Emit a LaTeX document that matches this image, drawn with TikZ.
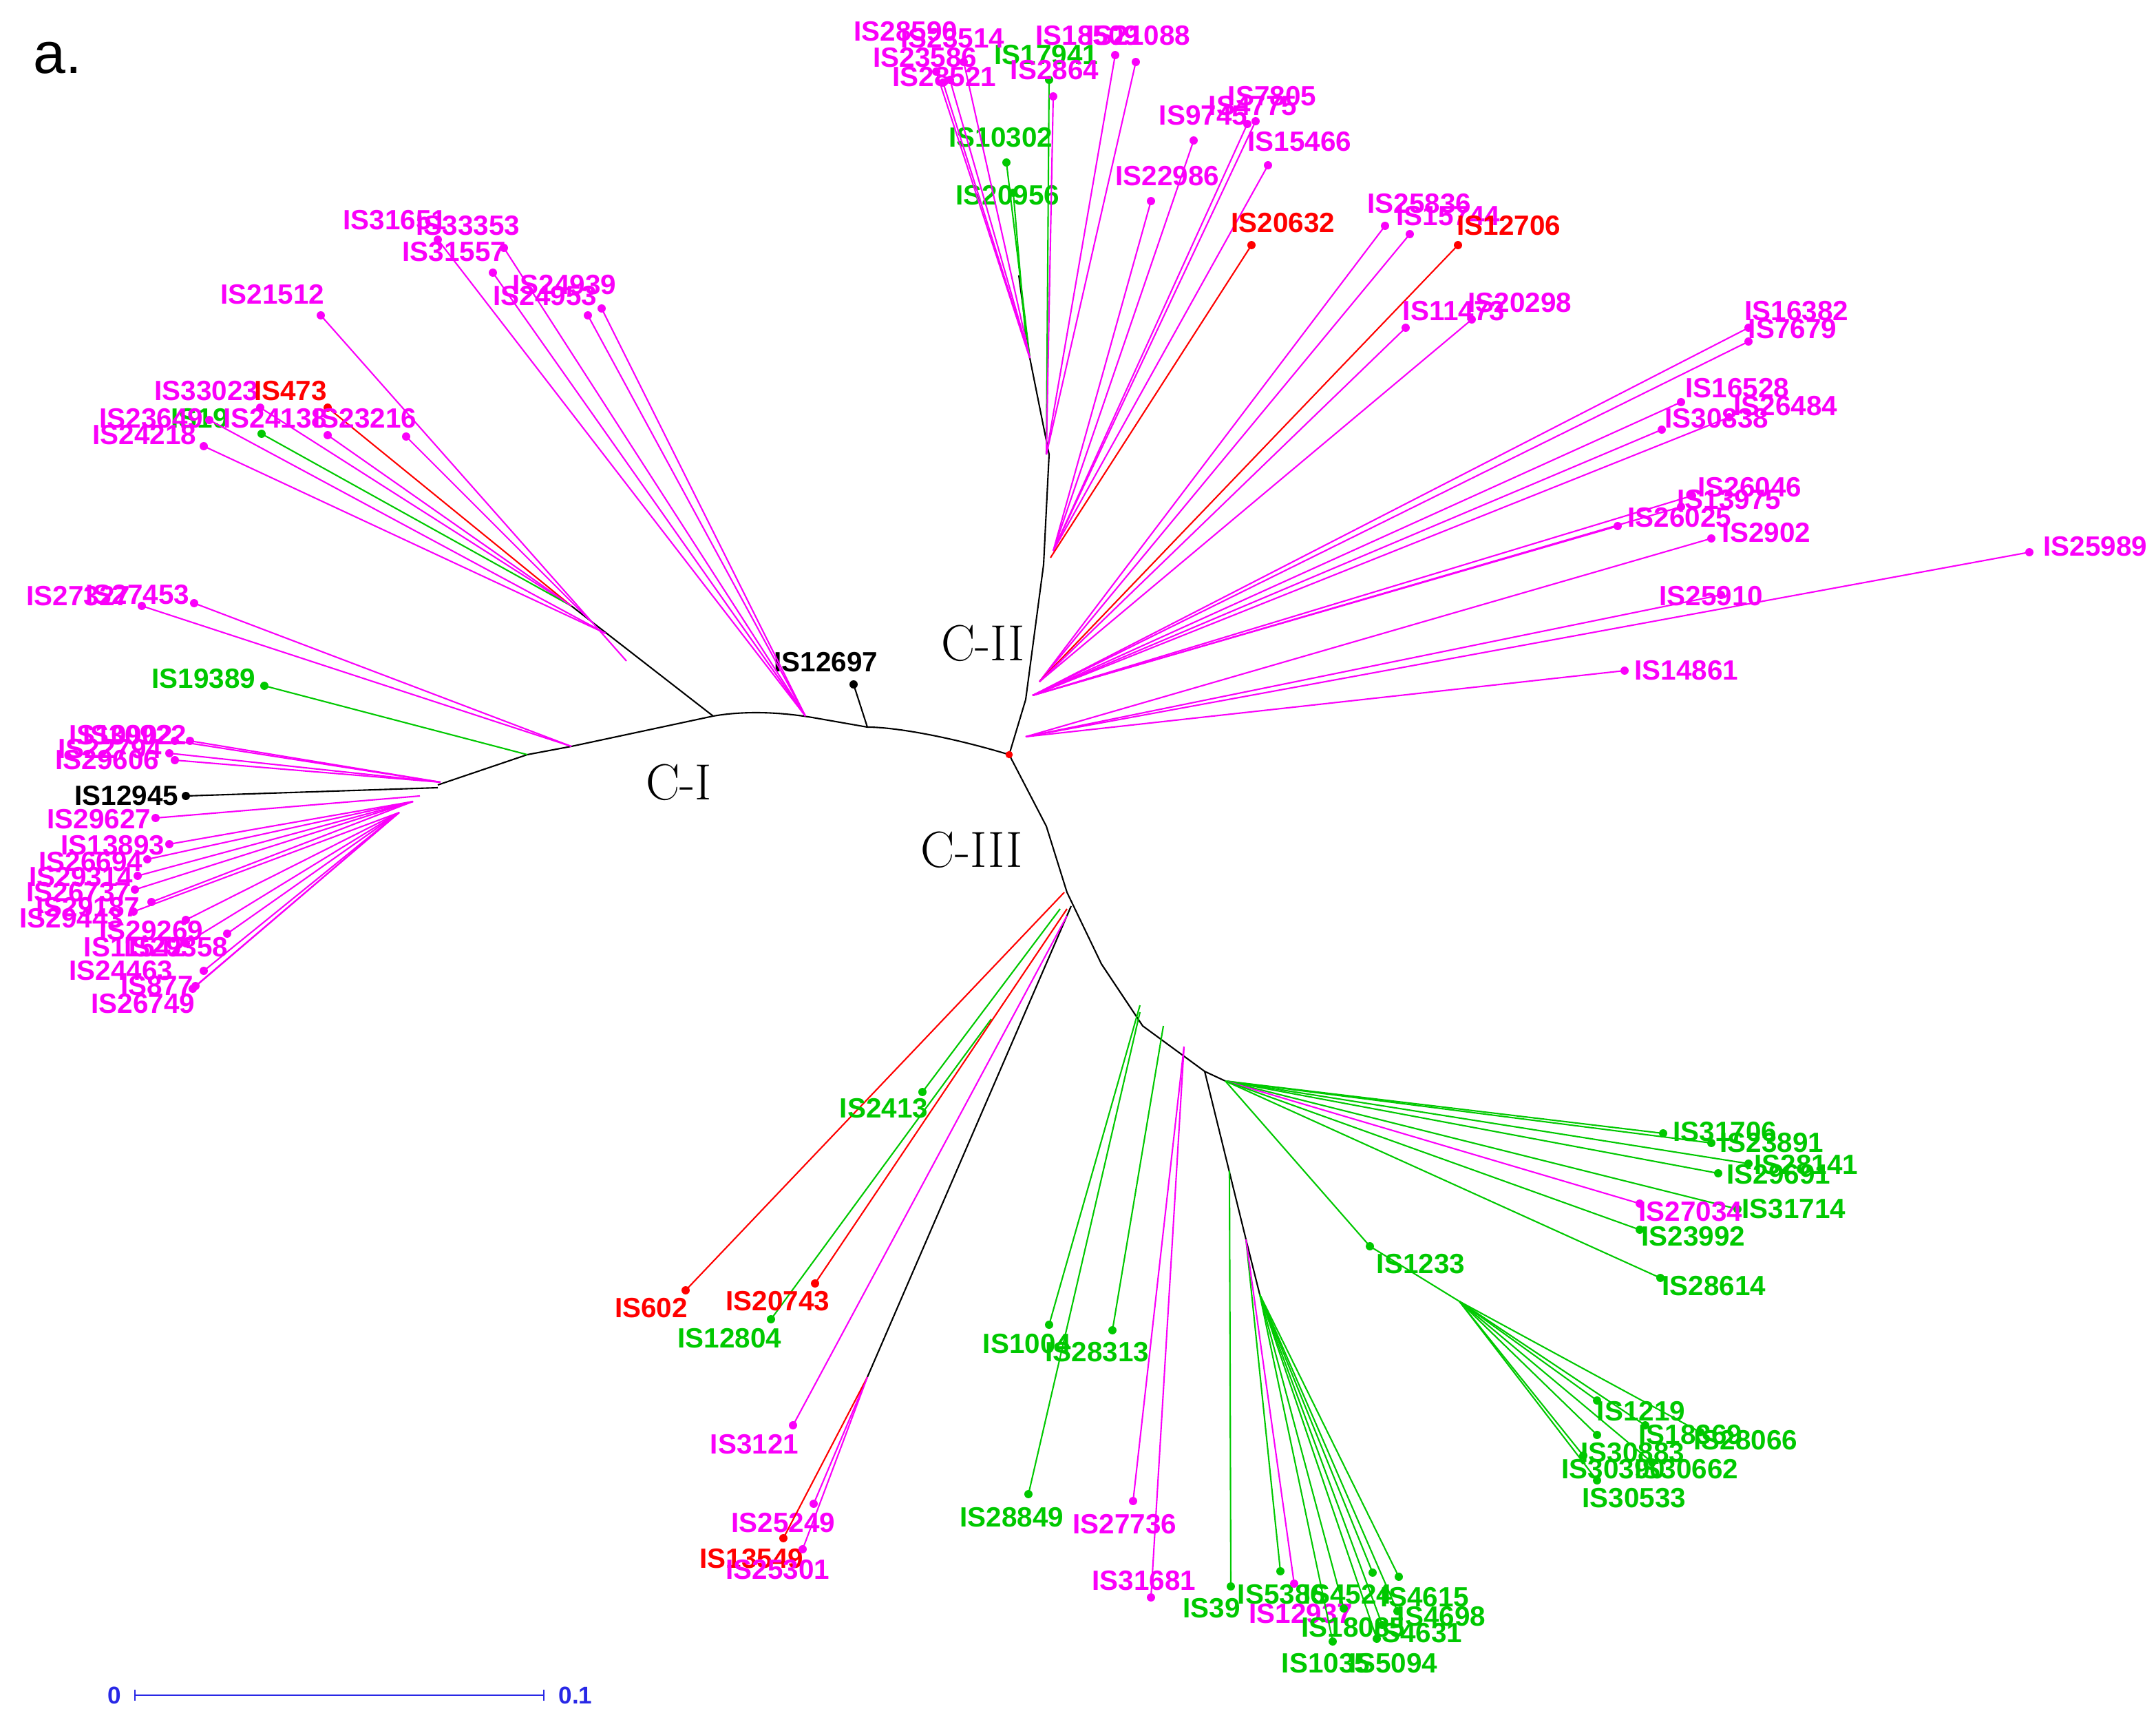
\documentclass[tikz,border=0pt]{standalone}
\usepackage{fontspec}
\setsansfont{Liberation Sans}
\definecolor{pk}{RGB}{250,0,250}
\definecolor{gn}{RGB}{0,200,0}
\definecolor{rd}{RGB}{255,0,0}
\definecolor{bk}{RGB}{0,0,0}
\definecolor{bl}{RGB}{40,40,230}
\newcommand\lf[5]{\coordinate (tip#5) at (#3);\draw[#1] (#2) -- (tip#5); \fill[#1] (tip#5) circle (1.7pt); \node[lab,text=#1] (L#5) at (#4) {#5};}
\begin{document}
\begin{tikzpicture}[x=0.02cm,y=-0.02cm,line width=0.6pt,
 lab/.style={font=\sffamily\bfseries\fontsize{11.5}{12}\selectfont,inner sep=0pt},
 cl/.style={font=\fontsize{21}{22}\selectfont,inner sep=0pt}]
\useasboundingbox (0,0) rectangle (1566,1257);
\node[font=\sffamily\fontsize{24}{24}\selectfont,anchor=west] at (18,42) {a.};
% backbone
\draw[bk] (733,548) .. controls (690,535) and (650,528) .. (630,528) -- (590,521) .. controls (560,516) and (535,517) .. (518,520) -- (415,542) -- (383,548) -- (318,570);
\draw[bk] (630,528) -- (620,497);
\draw[bk] (518,520) -- (415,440);
\draw[bk] (733,548) -- (745,508) -- (758,410) -- (762,330) -- (748,260) -- (740,200);
\draw[bk] (733,548) -- (760,600) -- (775,648) -- (800,700) -- (830,745) -- (875,778) -- (890,785);
\draw[bk] (875,778) -- (905,900) -- (915,940);
\draw[bk] (778,658) -- (630,1000);
\fill[rd] (733,548) circle (1.5pt);
\node[cl] at (493,568) {C-I};
\node[cl] at (714,467) {C-II};
\node[cl] at (706,617) {C-III};
% C-I
\fill[bk] (620,497) circle (1.7pt); \node[lab] (L12697) at (600,481) {IS12697};
\lf{pk}{455,480}{233,229}{198,214}{IS21512}
\lf{pk}{415,440}{189,296}{150,284}{IS33023}
\lf{rd}{415,440}{238,296}{211,284}{IS473}
\lf{gn}{415,440}{190,315}{145,304}{IS19}
\lf{pk}{415,440}{238,316}{200,304}{IS24138}
\lf{pk}{430,452}{295,317}{265,304}{IS23216}
\lf{pk}{440,460}{152,305}{110,304}{IS23649}
\lf{pk}{440,460}{148,324}{105,316}{IS24218}
\lf{pk}{585,520}{318,174}{287,160}{IS31651}
\lf{pk}{585,520}{366,180}{340,164}{IS33353}
\lf{pk}{585,520}{358,198}{330,183}{IS31557}
\lf{pk}{585,520}{437,224}{410,207}{IS24939}
\lf{pk}{585,520}{427,229}{396,215}{IS24953}
\lf{pk}{415,542}{103,440}{57,433}{IS27327}
\lf{pk}{415,542}{141,438}{100,432}{IS27453}
\lf{gn}{383,548}{192,498}{148,493}{IS19389}
\lf{pk}{320,568}{138,538}{98,534}{IS30922}
\lf{pk}{320,568}{127,538}{88,534}{IS10902}
\lf{pk}{320,568}{123,547}{80,544}{IS22794}
\lf{pk}{320,568}{127,552}{78,552}{IS29606}
\lf{bk}{318,572}{135,578}{92,578}{IS12945}
\lf{pk}{305,578}{113,594}{72,595}{IS29627}
\lf{pk}{300,582}{123,613}{82,614}{IS13893}
\lf{pk}{300,582}{107,624}{66,626}{IS26694}
\lf{pk}{300,582}{100,636}{59,637}{IS29314}
\lf{pk}{300,582}{98,646}{57,648}{IS26737}
\lf{pk}{300,582}{110,655}{64,659}{IS29187}
\lf{pk}{290,590}{97,662}{52,667}{IS29443}
\lf{pk}{290,590}{135,668}{110,676}{IS29269}
\lf{pk}{290,590}{135,685}{98,688}{IS11542}
\lf{pk}{290,590}{165,678}{128,688}{IS29358}
\lf{pk}{290,590}{148,705}{88,705}{IS24463}
\lf{pk}{290,590}{142,716}{114,716}{IS877}
\lf{pk}{290,590}{140,718}{104,729}{IS26749}
% C-II
\lf{gn}{760,330}{762,58}{760,40}{IS17941}
\lf{gn}{748,260}{731,118}{727,100}{IS10302}
\lf{gn}{745,245}{736,140}{732,142}{IS20956}
\lf{pk}{748,260}{685,60}{658,23}{IS28590}
\lf{pk}{748,260}{700,45}{692,28}{IS23514}
\lf{pk}{748,260}{680,52}{672,42}{IS23586}
\lf{pk}{748,260}{690,58}{686,56}{IS28521}
\lf{pk}{760,330}{765,70}{766,51}{IS2864}
\lf{pk}{760,330}{810,40}{790,26}{IS18509}
\lf{pk}{760,330}{825,45}{827,26}{IS21088}
\lf{pk}{765,400}{867,102}{874,84}{IS9745}
\lf{pk}{765,400}{912,88}{924,70}{IS7805}
\lf{pk}{765,400}{906,90}{910,77}{IS4775}
\lf{pk}{765,400}{921,120}{944,103}{IS15466}
\lf{pk}{765,400}{836,146}{848,128}{IS22986}
\lf{rd}{763,405}{909,178}{932,162}{IS20632}
\lf{pk}{755,495}{1006,164}{1031,148}{IS25836}
\lf{pk}{755,495}{1024,170}{1052,157}{IS15744}
\lf{rd}{755,495}{1059,178}{1096,164}{IS12706}
\lf{pk}{755,495}{1021,238}{1056,226}{IS11473}
\lf{pk}{755,495}{1069,232}{1104,220}{IS20298}
\lf{pk}{750,505}{1270,238}{1305,226}{IS16382}
\lf{pk}{750,505}{1270,248}{1302,239}{IS7679}
\lf{pk}{750,505}{1221,292}{1262,282}{IS16528}
\lf{pk}{750,505}{1207,312}{1247,304}{IS30838}
\lf{pk}{750,505}{1256,303}{1297,295}{IS26484}
\lf{pk}{750,505}{1229,360}{1271,354}{IS26046}
\lf{pk}{750,505}{1221,368}{1256,363}{IS13975}
\lf{pk}{750,505}{1175,382}{1220,376}{IS26025}
\lf{pk}{745,535}{1243,391}{1283,387}{IS2902}
\lf{pk}{745,535}{1474,401}{1522,397}{IS25989}
\lf{pk}{745,535}{1250,432}{1243,433}{IS25910}
\lf{pk}{745,535}{1180,487}{1225,487}{IS14861}
% C-III
\lf{rd}{773,648}{498,937}{473,950}{IS602}
\lf{gn}{770,660}{670,793}{642,805}{IS2413}
\lf{gn}{720,740}{560,958}{530,972}{IS12804}
\lf{rd}{775,660}{592,932}{565,945}{IS20743}
\lf{pk}{775,665}{576,1035}{548,1049}{IS3121}
\lf{pk}{630,1000}{591,1092}{569,1106}{IS25249}
\lf{rd}{630,1000}{569,1117}{546,1132}{IS13549}
\lf{pk}{630,1000}{583,1125}{565,1140}{IS25301}
\lf{gn}{828,730}{762,962}{746,976}{IS1004}
\lf{gn}{845,745}{808,966}{797,982}{IS28313}
\lf{gn}{828,735}{747,1085}{735,1102}{IS28849}
\lf{pk}{860,760}{823,1090}{817,1107}{IS27736}
\lf{pk}{860,760}{836,1160}{831,1148}{IS31681}
\lf{gn}{893,850}{894,1152}{880,1168}{IS39}
\lf{gn}{905,900}{930,1141}{931,1158}{IS5386}
\lf{pk}{905,900}{940,1150}{945,1172}{IS12937}
\lf{gn}{915,940}{976,1168}{983,1182}{IS18085}
\lf{gn}{915,940}{968,1192}{963,1208}{IS1035}
\lf{gn}{915,940}{1000,1190}{1012,1208}{IS5094}
\lf{gn}{915,940}{1004,1180}{1030,1186}{IS4631}
\lf{gn}{915,940}{1015,1170}{1047,1174}{IS4698}
\lf{gn}{915,940}{997,1142}{979,1158}{IS4524}
\lf{gn}{915,940}{1016,1145}{1035,1160}{IS4615}
\lf{gn}{890,785}{1208,823}{1253,822}{IS31706}
\lf{gn}{890,785}{1243,830}{1287,830}{IS23891}
\lf{gn}{890,785}{1270,845}{1312,846}{IS28141}
\lf{gn}{890,785}{1248,852}{1292,853}{IS29691}
\lf{gn}{890,785}{1262,878}{1303,878}{IS31714}
\lf{pk}{890,785}{1191,874}{1228,880}{IS27034}
\lf{gn}{890,785}{1191,893}{1230,898}{IS23992}
\lf{gn}{890,785}{1206,928}{1245,934}{IS28614}
\lf{gn}{890,785}{995,905}{1032,918}{IS1233}
\draw[gn] (tipIS1233) -- (1060,945);
\lf{gn}{1060,945}{1160,1017}{1192,1025}{IS1219}
\lf{gn}{1060,945}{1195,1035}{1228,1042}{IS18369}
\lf{gn}{1060,945}{1235,1040}{1268,1046}{IS28066}
\lf{gn}{1060,945}{1160,1042}{1186,1055}{IS30883}
\lf{gn}{1060,945}{1150,1057}{1172,1067}{IS30390}
\lf{gn}{1060,945}{1200,1062}{1225,1067}{IS30662}
\lf{gn}{1060,945}{1160,1075}{1187,1088}{IS30533}
% scale
\coordinate (s0) at (98,1231); \coordinate (s1) at (395,1231);
\draw[bl] (s0) -- (s1); \draw[bl] (s0)+(0,-4) -- +(0,4); \draw[bl] (s1)+(0,-4) -- +(0,4);
\node[font=\sffamily\bfseries\fontsize{10}{10}\selectfont,text=bl] at (83,1231) {0};
\node[font=\sffamily\bfseries\fontsize{10}{10}\selectfont,text=bl] at (418,1231) {0.1};
\end{tikzpicture}
\end{document}
